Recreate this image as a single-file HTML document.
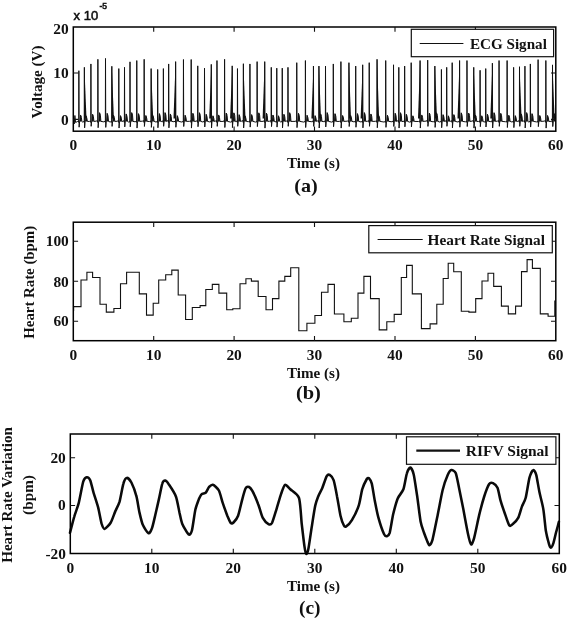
<!DOCTYPE html>
<html><head><meta charset="utf-8"><title>ECG, Heart Rate and RIFV Signals</title>
<style>
html,body{margin:0;padding:0;background:#fff;}
svg{display:block;}
svg text{font-family:"Liberation Serif",serif;font-weight:bold;fill:#111;}
svg text.sn{font-family:"Liberation Sans",sans-serif;font-weight:normal;stroke:#111;stroke-width:0.55px;}
</style></head><body>
<svg width="568" height="620" viewBox="0 0 568 620">
<rect width="568" height="620" fill="#fff"/>
<path d="M73.50 116.50 L74.20 124.00 L74.90 115.50 L75.60 122.50 L77.27 121.60 L78.27 121.00 L78.72 122.40 L78.87 70.71 L79.12 127.20 L79.57 121.80 L80.07 121.10 L80.57 114.97 L81.37 117.47 L81.87 121.40 L82.77 122.10 L83.77 121.50 L84.22 122.40 L84.37 67.33 L84.62 127.87 L85.07 121.80 L85.57 121.10 L86.07 115.76 L86.87 118.26 L87.37 121.40 L89.32 121.47 L90.32 120.87 L90.77 122.40 L90.92 63.94 L91.17 126.31 L91.62 121.80 L92.12 121.10 L92.62 114.27 L93.42 116.77 L93.92 121.40 L96.29 121.14 L97.29 120.54 L97.74 122.40 L97.89 59.30 L98.14 127.72 L98.59 121.80 L99.09 121.10 L99.59 112.68 L100.39 115.18 L100.89 121.40 L103.90 121.85 L104.90 121.25 L105.35 122.40 L105.50 58.45 L105.75 127.40 L106.20 121.80 L106.70 121.10 L107.20 113.32 L108.00 115.82 L108.50 121.40 L110.23 122.00 L111.23 121.40 L111.68 122.40 L111.83 66.27 L112.08 126.41 L112.53 121.80 L113.03 121.10 L113.53 115.25 L114.33 117.75 L114.83 121.40 L117.21 121.25 L118.21 120.65 L118.66 122.40 L118.81 68.59 L119.06 128.05 L119.51 121.80 L120.01 121.10 L120.51 115.64 L121.31 118.14 L121.81 121.40 L122.91 121.29 L123.91 120.69 L124.36 122.40 L124.51 67.33 L124.76 126.86 L125.21 121.80 L125.71 121.10 L126.21 113.92 L127.01 116.42 L127.51 121.40 L128.40 122.03 L129.40 121.43 L129.85 122.40 L130.00 61.83 L130.25 126.81 L130.70 121.80 L131.20 121.10 L131.70 112.61 L132.50 115.11 L133.00 121.40 L135.17 121.80 L136.17 121.20 L136.62 122.40 L136.77 60.56 L137.02 128.07 L137.47 121.80 L137.97 121.10 L138.47 113.63 L139.27 116.13 L139.77 121.40 L142.56 121.12 L143.56 120.52 L144.01 122.40 L144.16 59.30 L144.41 126.44 L144.86 121.80 L145.36 121.10 L145.86 115.49 L146.66 117.99 L147.16 121.40 L149.53 121.53 L150.53 120.93 L150.98 122.40 L151.13 68.59 L151.38 127.35 L151.83 121.80 L152.33 121.10 L152.83 115.46 L153.63 117.96 L154.13 121.40 L156.08 122.10 L157.08 121.50 L157.53 122.40 L157.68 69.44 L157.93 127.76 L158.38 121.80 L158.88 121.10 L159.38 113.59 L160.18 116.09 L160.68 121.40 L161.79 121.55 L162.79 120.95 L163.24 122.40 L163.39 68.59 L163.64 126.30 L164.09 121.80 L164.59 121.10 L165.09 112.61 L165.89 115.11 L166.39 121.40 L167.07 121.11 L168.07 120.51 L168.52 122.40 L168.67 63.94 L168.92 127.84 L169.37 121.80 L169.87 121.10 L170.37 113.96 L171.17 116.46 L171.67 121.40 L174.04 121.78 L175.04 121.18 L175.49 122.40 L175.64 61.62 L175.89 127.25 L176.34 121.80 L176.84 121.10 L177.34 115.66 L178.14 118.16 L178.64 121.40 L181.86 122.04 L182.86 121.44 L183.31 122.40 L183.46 59.51 L183.71 126.50 L184.16 121.80 L184.66 121.10 L185.16 115.22 L185.96 117.72 L186.46 121.40 L189.60 121.31 L190.60 120.71 L191.05 122.40 L191.20 59.51 L191.45 128.09 L191.90 121.80 L192.40 121.10 L192.90 113.28 L193.70 115.78 L194.20 121.40 L196.15 121.24 L197.15 120.64 L197.60 122.40 L197.75 65.85 L198.00 126.72 L198.45 121.80 L198.95 121.10 L199.45 112.69 L200.25 115.19 L200.75 121.40 L202.91 121.99 L203.91 121.39 L204.36 122.40 L204.51 68.17 L204.76 126.95 L205.21 121.80 L205.71 121.10 L206.21 114.31 L207.01 116.81 L207.51 121.40 L209.67 121.86 L210.67 121.26 L211.12 122.40 L211.27 64.37 L211.52 128.01 L211.97 121.80 L212.47 121.10 L212.97 115.77 L213.77 118.27 L214.27 121.40 L215.37 121.15 L216.37 120.55 L216.82 122.40 L216.97 60.56 L217.22 126.37 L217.67 121.80 L218.17 121.10 L218.67 114.93 L219.47 117.43 L219.97 121.40 L222.98 121.45 L223.98 120.85 L224.43 122.40 L224.58 59.30 L224.83 127.50 L225.28 121.80 L225.78 121.10 L226.28 113.02 L227.08 115.52 L227.58 121.40 L230.59 122.09 L231.59 121.49 L232.04 122.40 L232.19 65.85 L232.44 127.64 L232.89 121.80 L233.39 121.10 L233.89 112.84 L234.69 115.34 L235.19 121.40 L235.87 121.62 L236.87 121.02 L237.32 122.40 L237.47 68.59 L237.72 126.32 L238.17 121.80 L238.67 121.10 L239.17 114.65 L239.97 117.15 L240.47 121.40 L241.78 121.10 L242.78 120.50 L243.23 122.40 L243.38 63.73 L243.63 127.93 L244.08 121.80 L244.58 121.10 L245.08 115.80 L245.88 118.30 L246.38 121.40 L248.33 121.71 L249.33 121.11 L249.78 122.40 L249.93 63.94 L250.18 127.10 L250.63 121.80 L251.13 121.10 L251.63 114.61 L252.43 117.11 L252.93 121.40 L255.52 122.07 L256.52 121.47 L256.97 122.40 L257.12 61.62 L257.37 126.60 L257.82 121.80 L258.32 121.10 L258.82 112.82 L259.62 115.32 L260.12 121.40 L263.12 121.37 L264.12 120.77 L264.57 122.40 L264.72 61.62 L264.97 128.10 L265.42 121.80 L265.92 121.10 L266.42 113.05 L267.22 115.55 L267.72 121.40 L269.67 121.19 L270.67 120.59 L271.12 122.40 L271.27 67.33 L271.52 126.60 L271.97 121.80 L272.47 121.10 L272.97 114.97 L273.77 117.47 L274.27 121.40 L275.17 121.94 L276.17 121.34 L276.62 122.40 L276.77 68.17 L277.02 127.10 L277.47 121.80 L277.97 121.10 L278.47 115.76 L279.27 118.26 L279.77 121.40 L280.66 121.92 L281.66 121.32 L282.11 122.40 L282.26 68.17 L282.51 127.94 L282.96 121.80 L283.46 121.10 L283.96 114.27 L284.76 116.77 L285.26 121.40 L286.37 121.18 L287.37 120.58 L287.82 122.40 L287.97 67.33 L288.22 126.32 L288.67 121.80 L289.17 121.10 L289.67 112.68 L290.47 115.18 L290.97 121.40 L295.16 121.38 L296.16 120.78 L296.61 122.40 L296.76 62.68 L297.01 127.63 L297.46 121.80 L297.96 121.10 L298.46 113.32 L299.26 115.82 L299.76 121.40 L303.82 122.07 L304.82 121.47 L305.27 122.40 L305.42 60.56 L305.67 127.50 L306.12 121.80 L306.62 121.10 L307.12 115.25 L307.92 117.75 L308.42 121.40 L311.85 121.69 L312.85 121.09 L313.30 122.40 L313.45 66.06 L313.70 126.37 L314.15 121.80 L314.65 121.10 L315.15 115.64 L315.95 118.14 L316.45 121.40 L317.35 121.10 L318.35 120.50 L318.80 122.40 L318.95 66.06 L319.20 128.01 L319.65 121.80 L320.15 121.10 L320.65 113.92 L321.45 116.42 L321.95 121.40 L323.90 121.63 L324.90 121.03 L325.35 122.40 L325.50 66.06 L325.75 126.95 L326.20 121.80 L326.70 121.10 L327.20 112.61 L328.00 115.11 L328.50 121.40 L331.71 122.09 L332.71 121.49 L333.16 122.40 L333.31 63.94 L333.56 126.72 L334.01 121.80 L334.51 121.10 L335.01 113.63 L335.81 116.13 L336.31 121.40 L339.32 121.44 L340.32 120.84 L340.77 122.40 L340.92 61.62 L341.17 128.09 L341.62 121.80 L342.12 121.10 L342.62 115.49 L343.42 117.99 L343.92 121.40 L347.35 121.15 L348.35 120.55 L348.80 122.40 L348.95 62.68 L349.20 126.50 L349.65 121.80 L350.15 121.10 L350.65 115.46 L351.45 117.96 L351.95 121.40 L354.11 121.88 L355.11 121.28 L355.56 122.40 L355.71 66.06 L355.96 127.25 L356.41 121.80 L356.91 121.10 L357.41 113.59 L358.21 116.09 L358.71 121.40 L361.08 121.98 L362.08 121.38 L362.53 122.40 L362.68 64.79 L362.93 127.84 L363.38 121.80 L363.88 121.10 L364.38 112.61 L365.18 115.11 L365.68 121.40 L367.63 121.23 L368.63 120.63 L369.08 122.40 L369.23 62.68 L369.48 126.30 L369.93 121.80 L370.43 121.10 L370.93 113.96 L371.73 116.46 L372.23 121.40 L375.45 121.32 L376.45 120.72 L376.90 122.40 L377.05 59.30 L377.30 127.76 L377.75 121.80 L378.25 121.10 L378.75 115.66 L379.55 118.16 L380.05 121.40 L384.11 122.05 L385.11 121.45 L385.56 122.40 L385.71 60.56 L385.96 127.35 L386.41 121.80 L386.91 121.10 L387.41 115.22 L388.21 117.72 L388.71 121.40 L391.93 121.77 L392.93 121.17 L393.38 122.40 L393.53 64.79 L393.78 126.44 L394.23 121.80 L394.73 121.10 L395.23 113.28 L396.03 115.78 L396.53 121.40 L397.21 121.11 L398.21 120.51 L398.66 122.40 L398.81 67.33 L399.06 128.06 L399.51 121.80 L400.01 121.10 L400.51 112.69 L401.31 115.19 L401.81 121.40 L403.05 121.56 L404.05 120.96 L404.50 122.40 L404.65 66.06 L404.90 126.81 L405.35 121.80 L405.85 121.10 L406.35 114.31 L407.15 116.81 L407.65 121.40 L409.60 122.10 L410.60 121.50 L411.05 122.40 L411.20 62.68 L411.45 126.85 L411.90 121.80 L412.40 121.10 L412.90 115.77 L413.70 118.27 L414.20 121.40 L418.47 121.51 L419.47 120.91 L419.92 122.40 L420.07 60.56 L420.32 128.05 L420.77 121.80 L421.27 121.10 L421.77 114.93 L422.57 117.43 L423.07 121.40 L426.08 121.12 L427.08 120.52 L427.53 122.40 L427.68 60.14 L427.93 126.41 L428.38 121.80 L428.88 121.10 L429.38 113.02 L430.18 115.52 L430.68 121.40 L433.26 121.81 L434.26 121.21 L434.71 122.40 L434.86 66.06 L435.11 127.40 L435.56 121.80 L436.06 121.10 L436.56 112.84 L437.36 115.34 L437.86 121.40 L439.81 122.02 L440.81 121.42 L441.26 122.40 L441.41 69.44 L441.66 127.72 L442.11 121.80 L442.61 121.10 L443.11 114.65 L443.91 117.15 L444.41 121.40 L445.09 121.28 L446.09 120.68 L446.54 122.40 L446.69 67.33 L446.94 126.31 L447.39 121.80 L447.89 121.10 L448.39 115.80 L449.19 118.30 L449.69 121.40 L450.59 121.26 L451.59 120.66 L452.04 122.40 L452.19 62.68 L452.44 127.87 L452.89 121.80 L453.39 121.10 L453.89 114.61 L454.69 117.11 L455.19 121.40 L457.98 122.01 L458.98 121.41 L459.43 122.40 L459.58 60.56 L459.83 127.20 L460.28 121.80 L460.78 121.10 L461.28 112.82 L462.08 115.32 L462.58 121.40 L465.38 121.84 L466.38 121.24 L466.83 122.40 L466.98 60.56 L467.23 126.53 L467.68 121.80 L468.18 121.10 L468.68 113.05 L469.48 115.55 L469.98 121.40 L472.14 121.13 L473.14 120.53 L473.59 122.40 L473.74 67.33 L473.99 128.09 L474.44 121.80 L474.94 121.10 L475.44 114.97 L476.24 117.47 L476.74 121.40 L478.48 121.49 L479.48 120.89 L479.93 122.40 L480.08 70.28 L480.33 126.68 L480.78 121.80 L481.28 121.10 L481.78 115.76 L482.58 118.26 L483.08 121.40 L484.13 122.10 L485.13 121.50 L485.58 122.40 L485.73 68.59 L485.98 126.99 L486.43 121.80 L486.93 121.10 L487.43 114.26 L488.23 116.76 L488.73 121.40 L490.79 121.59 L491.79 120.99 L492.24 122.40 L492.39 63.17 L492.64 127.99 L493.09 121.80 L493.59 121.10 L494.09 112.68 L494.89 115.18 L495.39 121.40 L497.46 121.11 L498.46 120.51 L498.91 122.40 L499.06 60.54 L499.31 126.35 L499.76 121.80 L500.26 121.10 L500.76 113.32 L501.56 115.82 L502.06 121.40 L505.51 121.74 L506.51 121.14 L506.96 122.40 L507.11 60.54 L507.36 127.54 L507.81 121.80 L508.31 121.10 L508.81 115.25 L509.61 117.75 L510.11 121.40 L512.02 122.06 L513.02 121.46 L513.47 122.40 L513.62 67.35 L513.87 127.60 L514.32 121.80 L514.82 121.10 L515.32 115.64 L516.12 118.14 L516.62 121.40 L517.91 121.34 L518.91 120.74 L519.36 122.40 L519.51 66.73 L519.76 126.33 L520.21 121.80 L520.71 121.10 L521.21 113.92 L522.01 116.42 L522.51 121.40 L523.33 121.21 L524.33 120.61 L524.78 122.40 L524.93 66.11 L525.18 127.96 L525.63 121.80 L526.13 121.10 L526.63 112.61 L527.43 115.11 L527.93 121.40 L528.75 121.96 L529.75 121.36 L530.20 122.40 L530.35 63.94 L530.60 127.05 L531.05 121.80 L531.55 121.10 L532.05 113.63 L532.85 116.13 L533.35 121.40 L536.50 121.90 L537.50 121.30 L537.95 122.40 L538.10 59.61 L538.35 126.63 L538.80 121.80 L539.30 121.10 L539.80 115.49 L540.60 117.99 L541.10 121.40 L544.25 121.16 L545.25 120.56 L545.70 122.40 L545.85 60.54 L546.10 128.10 L546.55 121.80 L547.05 121.10 L547.55 115.46 L548.35 117.96 L548.85 121.40 L550.91 121.41 L551.91 120.81 L552.36 122.40 L552.51 64.87 L552.76 126.57 L553.21 121.80 L553.71 121.10 L554.21 113.59 L555.01 116.09 L555.51 121.40 L555.50 121.60" fill="none" stroke="#111" stroke-width="1" stroke-linejoin="miter"/>
<polygon points="79.97,121.60 80.17,114.97 81.17,116.17 81.77,121.60" fill="#111"/>
<polygon points="85.47,121.60 85.67,115.76 86.67,116.96 87.27,121.60" fill="#111"/>
<polygon points="84.4,67.3 86.5,118.6 84.4,118.6" fill="#111"/>
<polygon points="92.02,121.60 92.22,114.27 93.22,115.47 93.82,121.60" fill="#111"/>
<polygon points="98.99,121.60 99.19,112.68 100.19,113.88 100.79,121.60" fill="#111"/>
<polygon points="106.60,121.60 106.80,113.32 107.80,114.52 108.40,121.60" fill="#111"/>
<polygon points="112.93,121.60 113.13,115.25 114.13,116.45 114.73,121.60" fill="#111"/>
<polygon points="111.8,66.3 113.9,118.6 111.8,118.6" fill="#111"/>
<polygon points="119.91,121.60 120.11,115.64 121.11,116.84 121.71,121.60" fill="#111"/>
<polygon points="125.61,121.60 125.81,113.92 126.81,115.12 127.41,121.60" fill="#111"/>
<polygon points="131.10,121.60 131.30,112.61 132.30,113.81 132.90,121.60" fill="#111"/>
<polygon points="137.87,121.60 138.07,113.63 139.07,114.83 139.67,121.60" fill="#111"/>
<polygon points="145.26,121.60 145.46,115.49 146.46,116.69 147.06,121.60" fill="#111"/>
<polygon points="152.23,121.60 152.43,115.46 153.43,116.66 154.03,121.60" fill="#111"/>
<polygon points="151.1,68.6 153.2,118.6 151.1,118.6" fill="#111"/>
<polygon points="158.78,121.60 158.98,113.59 159.98,114.79 160.58,121.60" fill="#111"/>
<polygon points="164.49,121.60 164.69,112.61 165.69,113.81 166.29,121.60" fill="#111"/>
<polygon points="169.77,121.60 169.97,113.96 170.97,115.16 171.57,121.60" fill="#111"/>
<polygon points="176.74,121.60 176.94,115.66 177.94,116.86 178.54,121.60" fill="#111"/>
<polygon points="175.6,61.6 173.5,118.6 175.6,118.6" fill="#111"/>
<polygon points="184.56,121.60 184.76,115.22 185.76,116.42 186.36,121.60" fill="#111"/>
<polygon points="192.30,121.60 192.50,113.28 193.50,114.48 194.10,121.60" fill="#111"/>
<polygon points="198.85,121.60 199.05,112.69 200.05,113.89 200.65,121.60" fill="#111"/>
<polygon points="205.61,121.60 205.81,114.31 206.81,115.51 207.41,121.60" fill="#111"/>
<polygon points="212.37,121.60 212.57,115.77 213.57,116.97 214.17,121.60" fill="#111"/>
<polygon points="211.3,64.4 209.2,118.6 211.3,118.6" fill="#111"/>
<polygon points="218.07,121.60 218.27,114.93 219.27,116.13 219.87,121.60" fill="#111"/>
<polygon points="225.68,121.60 225.88,113.02 226.88,114.22 227.48,121.60" fill="#111"/>
<polygon points="233.29,121.60 233.49,112.84 234.49,114.04 235.09,121.60" fill="#111"/>
<polygon points="232.2,65.8 230.1,118.6 232.2,118.6" fill="#111"/>
<polygon points="238.57,121.60 238.77,114.65 239.77,115.85 240.37,121.60" fill="#111"/>
<polygon points="244.48,121.60 244.68,115.80 245.68,117.00 246.28,121.60" fill="#111"/>
<polygon points="243.4,63.7 245.5,118.6 243.4,118.6" fill="#111"/>
<polygon points="251.03,121.60 251.23,114.61 252.23,115.81 252.83,121.60" fill="#111"/>
<polygon points="258.22,121.60 258.42,112.82 259.42,114.02 260.02,121.60" fill="#111"/>
<polygon points="265.82,121.60 266.02,113.05 267.02,114.25 267.62,121.60" fill="#111"/>
<polygon points="264.7,61.6 262.6,118.6 264.7,118.6" fill="#111"/>
<polygon points="272.37,121.60 272.57,114.97 273.57,116.17 274.17,121.60" fill="#111"/>
<polygon points="277.87,121.60 278.07,115.76 279.07,116.96 279.67,121.60" fill="#111"/>
<polygon points="283.36,121.60 283.56,114.27 284.56,115.47 285.16,121.60" fill="#111"/>
<polygon points="289.07,121.60 289.27,112.68 290.27,113.88 290.87,121.60" fill="#111"/>
<polygon points="297.86,121.60 298.06,113.32 299.06,114.52 299.66,121.60" fill="#111"/>
<polygon points="306.52,121.60 306.72,115.25 307.72,116.45 308.32,121.60" fill="#111"/>
<polygon points="314.55,121.60 314.75,115.64 315.75,116.84 316.35,121.60" fill="#111"/>
<polygon points="313.5,66.1 311.4,118.6 313.5,118.6" fill="#111"/>
<polygon points="320.05,121.60 320.25,113.92 321.25,115.12 321.85,121.60" fill="#111"/>
<polygon points="318.9,66.1 321.0,118.6 318.9,118.6" fill="#111"/>
<polygon points="326.60,121.60 326.80,112.61 327.80,113.81 328.40,121.60" fill="#111"/>
<polygon points="334.41,121.60 334.61,113.63 335.61,114.83 336.21,121.60" fill="#111"/>
<polygon points="342.02,121.60 342.22,115.49 343.22,116.69 343.82,121.60" fill="#111"/>
<polygon points="350.05,121.60 350.25,115.46 351.25,116.66 351.85,121.60" fill="#111"/>
<polygon points="348.9,62.7 351.0,118.6 348.9,118.6" fill="#111"/>
<polygon points="356.81,121.60 357.01,113.59 358.01,114.79 358.61,121.60" fill="#111"/>
<polygon points="363.78,121.60 363.98,112.61 364.98,113.81 365.58,121.60" fill="#111"/>
<polygon points="362.7,64.8 360.6,118.6 362.7,118.6" fill="#111"/>
<polygon points="370.33,121.60 370.53,113.96 371.53,115.16 372.13,121.60" fill="#111"/>
<polygon points="378.15,121.60 378.35,115.66 379.35,116.86 379.95,121.60" fill="#111"/>
<polygon points="377.0,59.3 379.1,118.6 377.0,118.6" fill="#111"/>
<polygon points="386.81,121.60 387.01,115.22 388.01,116.42 388.61,121.60" fill="#111"/>
<polygon points="394.63,121.60 394.83,113.28 395.83,114.48 396.43,121.60" fill="#111"/>
<polygon points="399.91,121.60 400.11,112.69 401.11,113.89 401.71,121.60" fill="#111"/>
<polygon points="405.75,121.60 405.95,114.31 406.95,115.51 407.55,121.60" fill="#111"/>
<polygon points="412.30,121.60 412.50,115.77 413.50,116.97 414.10,121.60" fill="#111"/>
<polygon points="421.17,121.60 421.37,114.93 422.37,116.13 422.97,121.60" fill="#111"/>
<polygon points="420.1,60.6 418.0,118.6 420.1,118.6" fill="#111"/>
<polygon points="428.78,121.60 428.98,113.02 429.98,114.22 430.58,121.60" fill="#111"/>
<polygon points="435.96,121.60 436.16,112.84 437.16,114.04 437.76,121.60" fill="#111"/>
<polygon points="434.9,66.1 437.0,118.6 434.9,118.6" fill="#111"/>
<polygon points="442.51,121.60 442.71,114.65 443.71,115.85 444.31,121.60" fill="#111"/>
<polygon points="447.79,121.60 447.99,115.80 448.99,117.00 449.59,121.60" fill="#111"/>
<polygon points="453.29,121.60 453.49,114.61 454.49,115.81 455.09,121.60" fill="#111"/>
<polygon points="460.68,121.60 460.88,112.82 461.88,114.02 462.48,121.60" fill="#111"/>
<polygon points="459.6,60.6 457.5,118.6 459.6,118.6" fill="#111"/>
<polygon points="468.08,121.60 468.28,113.05 469.28,114.25 469.88,121.60" fill="#111"/>
<polygon points="474.84,121.60 475.04,114.97 476.04,116.17 476.64,121.60" fill="#111"/>
<polygon points="473.7,67.3 475.8,118.6 473.7,118.6" fill="#111"/>
<polygon points="481.18,121.60 481.38,115.76 482.38,116.96 482.98,121.60" fill="#111"/>
<polygon points="486.83,121.60 487.03,114.26 488.03,115.46 488.63,121.60" fill="#111"/>
<polygon points="493.49,121.60 493.69,112.68 494.69,113.88 495.29,121.60" fill="#111"/>
<polygon points="492.4,63.2 490.3,118.6 492.4,118.6" fill="#111"/>
<polygon points="500.16,121.60 500.36,113.32 501.36,114.52 501.96,121.60" fill="#111"/>
<polygon points="508.21,121.60 508.41,115.25 509.41,116.45 510.01,121.60" fill="#111"/>
<polygon points="514.72,121.60 514.92,115.64 515.92,116.84 516.52,121.60" fill="#111"/>
<polygon points="520.61,121.60 520.81,113.92 521.81,115.12 522.41,121.60" fill="#111"/>
<polygon points="519.5,66.7 521.6,118.6 519.5,118.6" fill="#111"/>
<polygon points="526.03,121.60 526.23,112.61 527.23,113.81 527.83,121.60" fill="#111"/>
<polygon points="531.45,121.60 531.65,113.63 532.65,114.83 533.25,121.60" fill="#111"/>
<polygon points="539.20,121.60 539.40,115.49 540.40,116.69 541.00,121.60" fill="#111"/>
<polygon points="546.95,121.60 547.15,115.46 548.15,116.66 548.75,121.60" fill="#111"/>
<polygon points="553.61,121.60 553.81,113.59 554.81,114.79 555.41,121.60" fill="#111"/>
<polygon points="552.5,64.9 554.6,118.6 552.5,118.6" fill="#111"/>
<rect x="73.3" y="27" width="482.49999999999994" height="104.19999999999999" fill="none" stroke="#000" stroke-width="1.5"/>
<path d="M153.7 131.2 v-4.8 M153.7 27 v4.8" stroke="#111" stroke-width="1.1"/>
<path d="M234.1 131.2 v-4.8 M234.1 27 v4.8" stroke="#111" stroke-width="1.1"/>
<path d="M314.5 131.2 v-4.8 M314.5 27 v4.8" stroke="#111" stroke-width="1.1"/>
<path d="M395.0 131.2 v-4.8 M395.0 27 v4.8" stroke="#111" stroke-width="1.1"/>
<path d="M475.4 131.2 v-4.8 M475.4 27 v4.8" stroke="#111" stroke-width="1.1"/>
<path d="M73.3 73.0 h4.8 M555.8 73.0 h-4.8" stroke="#111" stroke-width="1.1"/>
<path d="M73.3 119.4 h4.8 M555.8 119.4 h-4.8" stroke="#111" stroke-width="1.1"/>
<rect x="411.3" y="29.3" width="142.3" height="27.4" fill="#fff" stroke="#111" stroke-width="1.2"/>
<path d="M419.7 43.5 H463.4" stroke="#111" stroke-width="1.1"/>
<text x="469.9" y="49.2" font-size="15" text-anchor="start" textLength="77" lengthAdjust="spacingAndGlyphs" >ECG Signal</text>
<text x="73.3" y="150.2" font-size="14.3" text-anchor="middle" textLength="7.7" lengthAdjust="spacingAndGlyphs" >0</text>
<text x="153.7" y="150.2" font-size="14.3" text-anchor="middle" textLength="15.4" lengthAdjust="spacingAndGlyphs" >10</text>
<text x="234.1" y="150.2" font-size="14.3" text-anchor="middle" textLength="15.4" lengthAdjust="spacingAndGlyphs" >20</text>
<text x="314.5" y="150.2" font-size="14.3" text-anchor="middle" textLength="15.4" lengthAdjust="spacingAndGlyphs" >30</text>
<text x="395.0" y="150.2" font-size="14.3" text-anchor="middle" textLength="15.4" lengthAdjust="spacingAndGlyphs" >40</text>
<text x="475.4" y="150.2" font-size="14.3" text-anchor="middle" textLength="15.4" lengthAdjust="spacingAndGlyphs" >50</text>
<text x="555.8" y="150.2" font-size="14.3" text-anchor="middle" textLength="15.4" lengthAdjust="spacingAndGlyphs" >60</text>
<text x="68.6" y="33.5" font-size="14.3" text-anchor="end" textLength="15.4" lengthAdjust="spacingAndGlyphs" >20</text>
<text x="68.6" y="77.5" font-size="14.3" text-anchor="end" textLength="15.4" lengthAdjust="spacingAndGlyphs" >10</text>
<text x="68.6" y="124.7" font-size="14.3" text-anchor="end" textLength="7.7" lengthAdjust="spacingAndGlyphs" >0</text>
<text x="313.5" y="168.2" font-size="15" text-anchor="middle" textLength="53" lengthAdjust="spacingAndGlyphs" >Time (s)</text>
<text x="306" y="191.6" font-size="19" text-anchor="middle" textLength="23.5" lengthAdjust="spacingAndGlyphs" >(a)</text>
<text transform="translate(41.5,81.9) rotate(-90)" font-size="15" text-anchor="middle" textLength="73" lengthAdjust="spacingAndGlyphs">Voltage (V)</text>
<text x="73.6" y="20.3" font-size="13" class="sn">x 10</text>
<text x="99.5" y="9.3" font-size="8.5" class="sn">-5</text>
<path d="M73.6 311 L73.6 306.6 H81.0 V280.0 H86.9 V272.2 H92.6 V277.5 H100.0 V304.3 H106.3 V312.1 H113.9 V308.5 H120.5 V283.8 H126.6 V272.2 H139.3 V293.9 H146.5 V315.1 H153.2 V303.2 H158.7 V280.0 H165.7 V274.7 H171.8 V270.1 H178.2 V295.0 H185.6 V319.5 H192.3 V307.5 H200.1 V305.6 H205.8 V289.5 H212.3 V284.4 H218.9 V293.1 H226.7 V309.8 H232.8 V308.7 H240.0 V283.8 H245.9 V278.7 H251.4 V281.1 H258.2 V296.5 H266.0 V309.8 H272.5 V298.6 H278.9 V281.1 H284.8 V276.4 H290.7 V267.7 H298.8 V330.7 H306.9 V323.3 H314.9 V315.5 H321.5 V292.3 H328.0 V284.4 H334.4 V314.0 H343.9 V321.8 H351.3 V318.2 H358.0 V293.1 H363.9 V276.4 H370.5 V298.6 H379.2 V329.9 H386.8 V321.8 H394.2 V314.4 H401.3 V277.5 H406.6 V265.4 H412.3 V293.9 H421.4 V328.6 H430.1 V323.9 H436.8 V304.3 H443.2 V278.5 H448.2 V263.3 H453.7 V271.8 H461.3 V311.3 H468.9 V312.1 H475.7 V298.6 H482.0 V281.0 H488.0 V273.2 H493.7 V286.4 H501.4 V306.1 H508.3 V313.9 H515.6 V306.1 H521.5 V271.6 H527.1 V259.6 H532.4 V268.4 H540.3 V313.9 H548.1 V316.2 H554.8 V301 H555.6" fill="none" stroke="#111" stroke-width="1.1" stroke-linejoin="miter"/>
<rect x="73.3" y="222.2" width="482.49999999999994" height="118.5" fill="none" stroke="#000" stroke-width="1.5"/>
<path d="M153.7 340.7 v-4.8 M153.7 222.2 v4.8" stroke="#111" stroke-width="1.1"/>
<path d="M234.1 340.7 v-4.8 M234.1 222.2 v4.8" stroke="#111" stroke-width="1.1"/>
<path d="M314.5 340.7 v-4.8 M314.5 222.2 v4.8" stroke="#111" stroke-width="1.1"/>
<path d="M395.0 340.7 v-4.8 M395.0 222.2 v4.8" stroke="#111" stroke-width="1.1"/>
<path d="M475.4 340.7 v-4.8 M475.4 222.2 v4.8" stroke="#111" stroke-width="1.1"/>
<path d="M73.3 241.2 h4.8 M555.8 241.2 h-4.8" stroke="#111" stroke-width="1.1"/>
<path d="M73.3 281.2 h4.8 M555.8 281.2 h-4.8" stroke="#111" stroke-width="1.1"/>
<path d="M73.3 321.2 h4.8 M555.8 321.2 h-4.8" stroke="#111" stroke-width="1.1"/>
<rect x="368.8" y="225.6" width="183.5" height="27.2" fill="#fff" stroke="#111" stroke-width="1.2"/>
<path d="M377.6 239.5 H422.7" stroke="#111" stroke-width="1.1"/>
<text x="427.6" y="245.3" font-size="15" text-anchor="start" textLength="117.3" lengthAdjust="spacingAndGlyphs" >Heart Rate Signal</text>
<text x="73.3" y="360.2" font-size="14.3" text-anchor="middle" textLength="7.7" lengthAdjust="spacingAndGlyphs" >0</text>
<text x="153.7" y="360.2" font-size="14.3" text-anchor="middle" textLength="15.4" lengthAdjust="spacingAndGlyphs" >10</text>
<text x="234.1" y="360.2" font-size="14.3" text-anchor="middle" textLength="15.4" lengthAdjust="spacingAndGlyphs" >20</text>
<text x="314.5" y="360.2" font-size="14.3" text-anchor="middle" textLength="15.4" lengthAdjust="spacingAndGlyphs" >30</text>
<text x="395.0" y="360.2" font-size="14.3" text-anchor="middle" textLength="15.4" lengthAdjust="spacingAndGlyphs" >40</text>
<text x="475.4" y="360.2" font-size="14.3" text-anchor="middle" textLength="15.4" lengthAdjust="spacingAndGlyphs" >50</text>
<text x="555.8" y="360.2" font-size="14.3" text-anchor="middle" textLength="15.4" lengthAdjust="spacingAndGlyphs" >60</text>
<text x="68.8" y="246.2" font-size="14.3" text-anchor="end" textLength="23.1" lengthAdjust="spacingAndGlyphs" >100</text>
<text x="68.8" y="286.5" font-size="14.3" text-anchor="end" textLength="15.4" lengthAdjust="spacingAndGlyphs" >80</text>
<text x="68.8" y="326.3" font-size="14.3" text-anchor="end" textLength="15.4" lengthAdjust="spacingAndGlyphs" >60</text>
<text x="313.5" y="377.5" font-size="15" text-anchor="middle" textLength="53" lengthAdjust="spacingAndGlyphs" >Time (s)</text>
<text x="308.4" y="398.8" font-size="19" text-anchor="middle" textLength="25" lengthAdjust="spacingAndGlyphs" >(b)</text>
<text transform="translate(34.3,282.3) rotate(-90)" font-size="15" text-anchor="middle" textLength="112.8" lengthAdjust="spacingAndGlyphs">Heart Rate (bpm)</text>
<path d="M70.0 532.8 C70.5 530.9 73.1 520.4 74.2 516.8 C75.2 513.2 77.6 507.3 78.7 503.1 C79.8 498.8 82.3 484.4 83.3 481.3 C84.3 478.2 85.9 477.3 86.7 477.2 C87.6 477.1 89.4 478.3 90.2 480.2 C91.0 482.0 92.6 489.5 93.6 492.8 C94.6 496.1 97.2 503.9 98.2 507.6 C99.1 511.4 100.9 521.1 101.6 523.7 C102.4 526.2 103.5 529.1 104.6 528.9 C105.7 528.8 109.5 524.7 110.8 522.5 C112.1 520.4 114.3 513.5 115.4 511.1 C116.4 508.6 118.5 505.2 119.5 501.9 C120.4 498.6 122.5 486.5 123.4 483.6 C124.2 480.7 125.8 478.0 126.8 477.9 C127.8 477.8 130.2 480.3 131.4 482.5 C132.5 484.7 135.5 492.6 136.4 496.2 C137.4 499.8 138.6 508.8 139.4 512.2 C140.2 515.7 141.7 522.3 142.8 524.8 C143.9 527.3 147.4 532.9 148.5 533.3 C149.6 533.7 151.2 530.5 152.0 528.2 C152.8 526.0 154.6 517.9 155.4 514.5 C156.2 511.1 158.0 503.3 158.8 499.6 C159.7 495.9 161.5 485.9 162.3 483.6 C163.0 481.3 164.4 480.5 165.3 480.6 C166.1 480.8 167.9 482.8 169.1 484.8 C170.4 486.7 174.8 493.4 176.0 496.7 C177.2 500.0 178.7 509.0 179.4 512.2 C180.2 515.5 181.1 521.0 182.2 523.7 C183.3 526.3 187.4 533.6 188.6 534.4 C189.8 535.2 191.1 533.5 191.9 530.5 C192.7 527.6 194.5 513.6 195.3 509.9 C196.1 506.2 198.0 501.5 198.7 499.6 C199.5 497.8 200.7 495.2 201.5 494.4 C202.3 493.5 204.7 493.6 205.6 492.8 C206.5 491.9 208.2 488.0 209.0 487.0 C209.9 486.1 211.7 484.3 212.9 484.8 C214.1 485.2 217.7 488.3 218.9 490.5 C220.1 492.7 221.7 500.0 222.8 503.1 C223.8 506.1 226.4 513.3 227.3 515.7 C228.3 518.0 230.0 522.2 230.8 523.0 C231.5 523.8 232.6 523.4 233.5 522.5 C234.4 521.6 237.1 518.4 238.1 515.7 C239.1 512.9 241.3 502.9 242.2 499.6 C243.1 496.3 244.8 489.7 245.7 488.2 C246.5 486.7 248.3 486.7 249.1 487.0 C249.9 487.4 251.4 489.1 252.5 491.2 C253.6 493.2 257.0 501.0 258.2 504.2 C259.5 507.4 261.6 515.6 262.8 517.9 C264.1 520.3 267.4 523.5 268.5 524.1 C269.6 524.7 271.0 524.8 272.0 523.0 C272.9 521.1 275.5 512.3 276.6 508.8 C277.7 505.3 280.1 496.8 281.1 493.9 C282.1 491.0 283.9 485.3 285.0 484.8 C286.1 484.2 288.6 487.7 290.3 489.3 C292.0 490.9 297.6 493.9 299.0 498.0 C300.4 502.2 301.1 517.8 301.7 523.7 C302.4 529.5 303.9 542.9 304.5 546.6 C305.0 550.2 305.8 553.6 306.3 553.9 C306.8 554.2 307.8 552.2 308.4 548.8 C309.1 545.5 311.0 531.2 311.9 526.0 C312.7 520.7 314.5 508.9 315.3 505.4 C316.1 501.8 317.5 498.3 318.3 496.2 C319.1 494.1 321.2 490.6 322.2 488.2 C323.2 485.8 325.8 477.7 326.7 476.1 C327.7 474.5 328.9 474.4 329.7 474.9 C330.5 475.4 332.7 477.6 333.6 480.2 C334.5 482.7 336.2 491.9 337.0 496.2 C337.9 500.5 339.7 512.1 340.5 515.7 C341.3 519.2 343.2 524.2 343.9 525.5 C344.6 526.8 345.2 527.0 346.2 526.4 C347.2 525.8 350.4 522.8 351.9 520.2 C353.4 517.7 357.6 509.1 358.8 505.4 C360.0 501.6 361.3 492.5 362.2 489.3 C363.2 486.2 366.0 480.4 366.8 479.0 C367.6 477.7 368.5 477.8 369.1 478.3 C369.7 478.9 371.1 480.9 371.8 483.6 C372.5 486.3 374.0 496.8 374.8 500.8 C375.6 504.8 377.1 512.8 378.2 516.8 C379.3 520.8 382.9 531.6 384.0 534.0 C385.0 536.3 386.3 536.4 386.9 536.3 C387.6 536.1 388.9 535.4 389.7 532.8 C390.4 530.2 392.2 518.6 393.1 514.5 C394.1 510.4 396.5 501.5 397.7 498.5 C398.9 495.5 402.3 492.4 403.4 489.3 C404.5 486.3 406.0 475.9 406.9 473.3 C407.7 470.7 409.5 467.5 410.3 467.6 C411.1 467.7 412.9 471.0 413.7 474.5 C414.5 477.9 416.3 490.6 417.2 496.2 C418.0 501.8 419.8 517.0 420.6 521.4 C421.4 525.8 423.2 530.4 424.0 532.8 C424.9 535.3 426.9 540.4 427.5 541.9 C428.2 543.3 428.9 545.4 429.5 545.1 C430.1 544.8 431.6 542.9 432.6 539.3 C433.5 535.8 436.4 521.3 437.6 515.4 C438.8 509.5 441.4 495.1 442.6 490.2 C443.8 485.4 446.6 477.6 447.7 475.1 C448.7 472.7 450.5 470.3 451.4 470.1 C452.4 469.9 454.8 471.0 455.7 473.1 C456.6 475.2 458.1 483.4 459.0 487.7 C459.9 492.0 462.2 503.7 463.3 509.1 C464.3 514.6 466.9 528.8 467.8 533.0 C468.7 537.3 470.3 543.8 471.1 544.4 C471.8 545.0 473.1 541.6 474.1 538.1 C475.1 534.6 477.9 520.4 479.1 515.4 C480.3 510.4 483.0 500.3 484.2 496.5 C485.4 492.8 488.1 485.6 489.2 484.0 C490.3 482.4 492.0 482.7 493.0 483.2 C494.0 483.7 496.6 485.7 497.5 487.7 C498.4 489.8 499.6 497.1 500.5 500.3 C501.4 503.5 504.0 511.1 505.1 514.2 C506.1 517.2 508.4 524.3 509.3 525.5 C510.3 526.6 512.1 524.6 513.1 523.7 C514.2 522.8 517.1 520.0 518.2 517.9 C519.2 515.9 521.0 509.0 521.9 506.6 C522.8 504.2 524.8 501.3 525.7 497.8 C526.6 494.3 528.6 481.0 529.5 477.7 C530.4 474.3 532.4 470.4 533.3 470.1 C534.1 469.8 535.5 472.4 536.3 475.1 C537.0 477.9 538.7 488.7 539.6 492.8 C540.4 496.8 542.6 504.6 543.3 509.1 C544.1 513.7 545.2 526.3 545.8 530.5 C546.5 534.8 548.5 542.3 549.1 544.4 C549.7 546.4 550.4 547.8 550.9 547.6 C551.4 547.5 552.8 544.9 553.4 543.1 C554.0 541.4 555.3 535.6 555.9 533.0 C556.6 530.5 558.6 523.1 558.9 521.7" fill="none" stroke="#0a0a0a" stroke-width="2.55" stroke-linejoin="round" stroke-linecap="round"/>
<rect x="70.3" y="434.0" width="488.99999999999994" height="119.5" fill="none" stroke="#000" stroke-width="1.5"/>
<path d="M151.8 553.5 v-4.8 M151.8 434.0 v4.8" stroke="#111" stroke-width="1.1"/>
<path d="M233.3 553.5 v-4.8 M233.3 434.0 v4.8" stroke="#111" stroke-width="1.1"/>
<path d="M314.8 553.5 v-4.8 M314.8 434.0 v4.8" stroke="#111" stroke-width="1.1"/>
<path d="M396.3 553.5 v-4.8 M396.3 434.0 v4.8" stroke="#111" stroke-width="1.1"/>
<path d="M477.8 553.5 v-4.8 M477.8 434.0 v4.8" stroke="#111" stroke-width="1.1"/>
<path d="M70.3 457.7 h4.8 M559.3 457.7 h-4.8" stroke="#111" stroke-width="1.1"/>
<path d="M70.3 505.5 h4.8 M559.3 505.5 h-4.8" stroke="#111" stroke-width="1.1"/>
<rect x="406.5" y="436.8" width="149.4" height="27.5" fill="#fff" stroke="#111" stroke-width="1.2"/>
<path d="M416.3 450.6 H460" stroke="#111" stroke-width="2.2"/>
<text x="465.7" y="456.4" font-size="15" text-anchor="start" textLength="83" lengthAdjust="spacingAndGlyphs" >RIFV Signal</text>
<text x="70.3" y="572.6" font-size="14.3" text-anchor="middle" textLength="7.7" lengthAdjust="spacingAndGlyphs" >0</text>
<text x="151.8" y="572.6" font-size="14.3" text-anchor="middle" textLength="15.4" lengthAdjust="spacingAndGlyphs" >10</text>
<text x="233.3" y="572.6" font-size="14.3" text-anchor="middle" textLength="15.4" lengthAdjust="spacingAndGlyphs" >20</text>
<text x="314.8" y="572.6" font-size="14.3" text-anchor="middle" textLength="15.4" lengthAdjust="spacingAndGlyphs" >30</text>
<text x="396.3" y="572.6" font-size="14.3" text-anchor="middle" textLength="15.4" lengthAdjust="spacingAndGlyphs" >40</text>
<text x="477.8" y="572.6" font-size="14.3" text-anchor="middle" textLength="15.4" lengthAdjust="spacingAndGlyphs" >50</text>
<text x="559.3" y="572.6" font-size="14.3" text-anchor="middle" textLength="15.4" lengthAdjust="spacingAndGlyphs" >60</text>
<text x="65.8" y="463.3" font-size="14.3" text-anchor="end" textLength="15.4" lengthAdjust="spacingAndGlyphs" >20</text>
<text x="65.8" y="510.3" font-size="14.3" text-anchor="end" textLength="7.7" lengthAdjust="spacingAndGlyphs" >0</text>
<text x="65.8" y="559.4000000000001" font-size="14.3" text-anchor="end" textLength="20.4" lengthAdjust="spacingAndGlyphs" >-20</text>
<text x="313.5" y="590.5" font-size="15" text-anchor="middle" textLength="53" lengthAdjust="spacingAndGlyphs" >Time (s)</text>
<text x="309.8" y="614.4" font-size="19" text-anchor="middle" textLength="21.5" lengthAdjust="spacingAndGlyphs" >(c)</text>
<text transform="translate(12.4,495) rotate(-90)" font-size="15" text-anchor="middle" textLength="135.6" lengthAdjust="spacingAndGlyphs">Heart Rate Variation</text>
<text transform="translate(32.8,495) rotate(-90)" font-size="15" text-anchor="middle" textLength="39.8" lengthAdjust="spacingAndGlyphs">(bpm)</text>
</svg>
</body></html>
